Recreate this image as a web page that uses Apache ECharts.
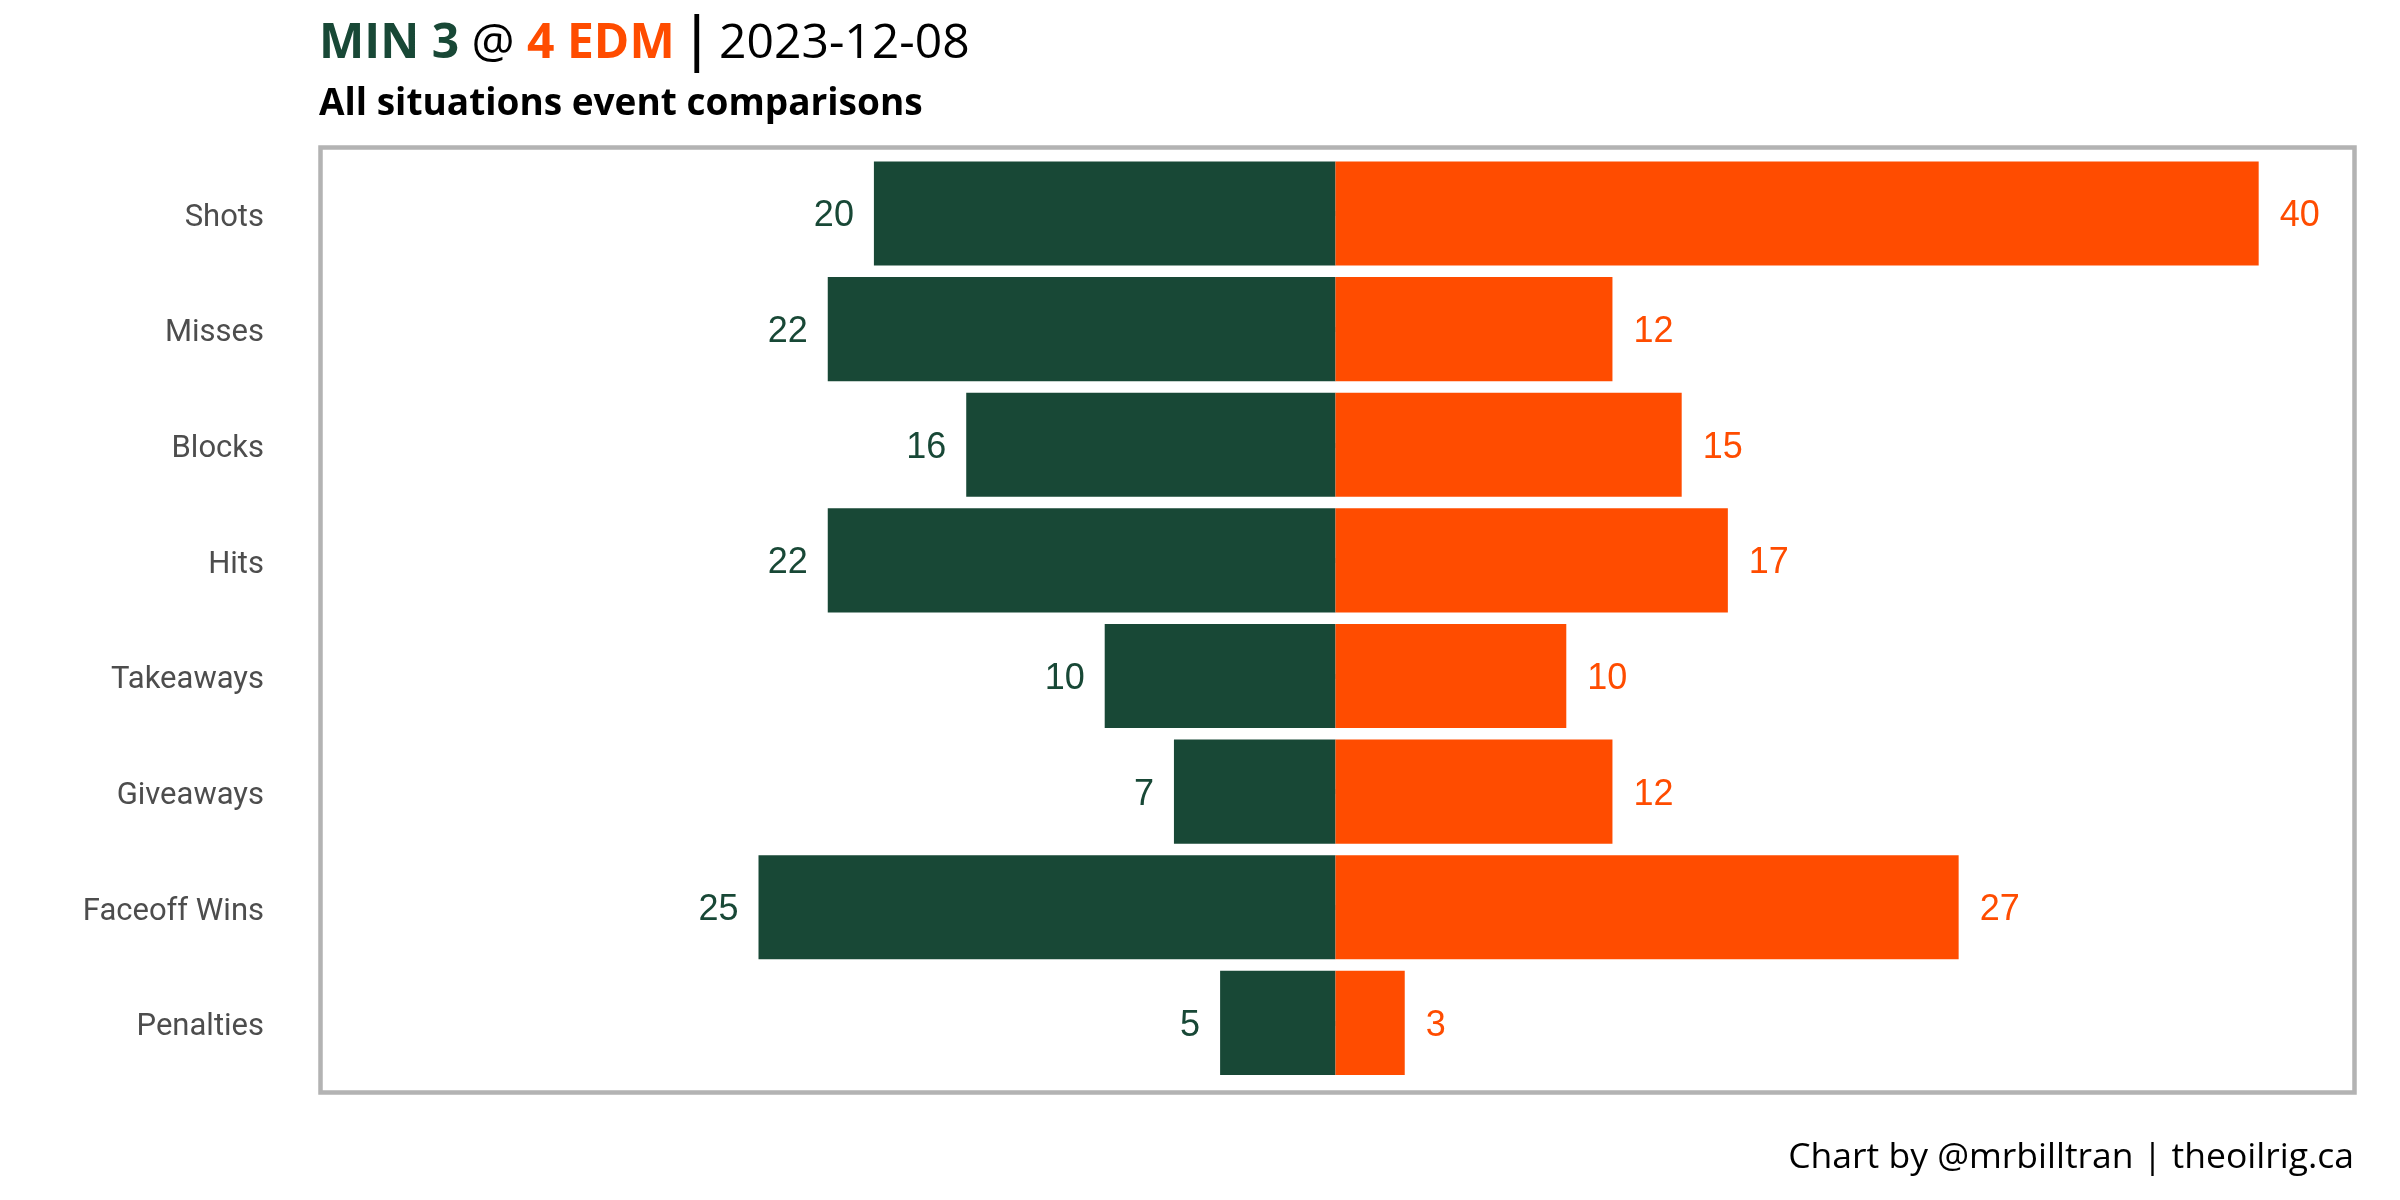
<!DOCTYPE html>
<html>
<head>
<meta charset="utf-8">
<script src="https://cdn.jsdelivr.net/npm/echarts@6/dist/echarts.min.js"></script>
<style>html,body{margin:0;padding:0;background:#fff}#chart{width:2400px;height:1200px}</style>
</head>
<body>
<div id="chart"></div>
<script>
const categories = ['Shots', 'Misses', 'Blocks', 'Hits', 'Takeaways', 'Giveaways', 'Faceoff Wins', 'Penalties'];
const minValues = [20, 22, 16, 22, 10, 7, 25, 5];
const edmValues = [40, 12, 15, 17, 10, 12, 27, 3];
const axisMin = -44, axisMax = 44;

const GREEN = '#184836';
const ORANGE = '#ff4c00';
const GREY = '#b3b3b3';
const TF = 'Open Sans';

const chart = echarts.init(document.getElementById('chart'));
chart.setOption({
  backgroundColor: '#ffffff',
  animation: false,
  title: [{
    left: 319, top: 15, padding: 0,
    text: '{min|MIN 3 }{at|@ }{edm|4 EDM }{sep||}{date| 2023-12-08}',
    textStyle: {
      fontSize: 48,
      rich: {
        min: { fontFamily: TF, fontWeight: 'bold', fontSize: 48, color: GREEN },
        at: { fontFamily: TF, fontWeight: 'normal', fontSize: 48, color: '#000' },
        edm: { fontFamily: TF, fontWeight: 'bold', fontSize: 48, color: ORANGE },
        sep: { fontFamily: 'DejaVu Sans', fontWeight: 'normal', fontSize: 58, color: '#000' },
        date: { fontFamily: TF, fontWeight: 'normal', fontSize: 48, color: '#000' }
      }
    }
  }, {
    left: 319, top: 86, padding: 0,
    text: 'All situations event comparisons',
    textStyle: { fontFamily: TF, fontWeight: 'bold', fontSize: 37, color: '#000' }
  }, {
    right: 46, top: 1140, padding: 0,
    text: 'Chart by @mrbilltran | theoilrig.ca',
    textStyle: { fontFamily: TF, fontWeight: 'normal', fontSize: 35.5, color: '#000' }
  }],
  grid: { left: 320, right: 49, top: 155.7, bottom: 119.3, containLabel: false },
  xAxis: {
    type: 'value', min: axisMin, max: axisMax,
    show: false
  },
  yAxis: {
    type: 'category', data: categories, inverse: true,
    axisLine: { show: false },
    axisTick: { show: true, alignWithLabel: true, length: 30, lineStyle: { color: GREY, width: 5 } },
    axisLabel: {
      margin: 56, formatter: v => '{c|' + v + '}',
      rich: { c: { fontFamily: 'Roboto', fontSize: 31, color: '#4d4d4d', padding: [9, 0, 0, 0] } }
    },
    splitLine: { show: false }
  },
  graphic: [{
    type: 'rect', left: 318, top: 145, z: 10, silent: true,
    shape: { width: 2034, height: 945 },
    style: { fill: 'none', stroke: GREY, lineWidth: 4.5 }
  }],
  series: [{
    name: 'MIN', type: 'bar', barWidth: '90%', barGap: '-100%',
    data: minValues.map(v => -v),
    itemStyle: { color: GREEN },
    label: { show: true, position: 'left', distance: 20, formatter: p => '{v|' + Math.abs(p.value) + '}',
      rich: { v: { fontFamily: 'Liberation Sans', fontSize: 36, color: GREEN, padding: [6, 0, 0, 0] } } }
  }, {
    name: 'EDM', type: 'bar', barWidth: '90%', barGap: '-100%',
    data: edmValues,
    itemStyle: { color: ORANGE },
    label: { show: true, position: 'right', distance: 21, formatter: p => '{v|' + p.value + '}',
      rich: { v: { fontFamily: 'Liberation Sans', fontSize: 36, color: ORANGE, padding: [6, 0, 0, 0] } } }
  }]
});
</script>
</body>
</html>
